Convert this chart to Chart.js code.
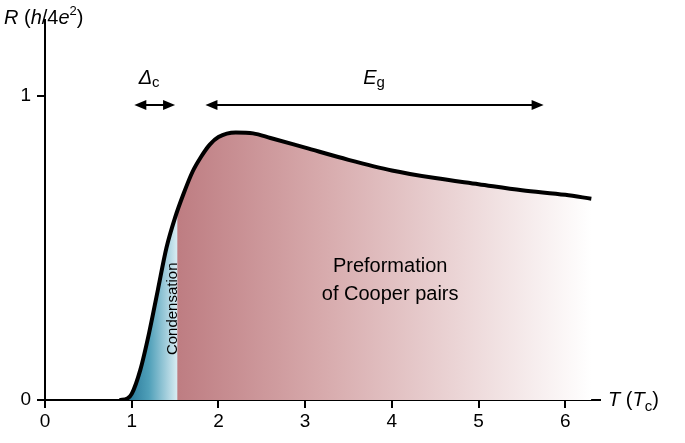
<!DOCTYPE html>
<html>
<head>
<meta charset="utf-8">
<script src="https://cdn.jsdelivr.net/npm/chart.js@4"></script>
<style>
  html, body { margin: 0; padding: 0; background: #fff; }
  #wrap { width: 685px; height: 443px; }
</style>
</head>
<body>
<div id="wrap"><canvas id="c"></canvas></div>
<script>
const temps = [0.86, 0.95, 1.0, 1.1, 1.2, 1.3, 1.4, 1.5, 1.6, 1.7, 1.8, 1.9, 2.0, 2.2, 2.4, 2.6, 3.0, 3.5, 4.0, 4.5, 5.0, 5.5, 6.0, 6.3];
const resist = [0, 0.005, 0.02, 0.1, 0.22, 0.36, 0.5, 0.6, 0.68, 0.75, 0.8, 0.84, 0.865, 0.88, 0.877, 0.862, 0.83, 0.79, 0.755, 0.73, 0.71, 0.69, 0.675, 0.662];
const xTicks = [0, 1, 2, 3, 4, 5, 6];
const yTicks = [0, 1];
const tCond = 1.53;

const FONT = "'Liberation Sans', Arial, sans-serif";

function fillGradient(ctx) {
    const chart = ctx.chart;
    const area = chart.chartArea;
    if (!area) return 'rgba(0,0,0,0)';
    const xs = chart.scales.x;
    const g = chart.ctx.createLinearGradient(area.left, 0, area.right, 0);
    const pos = v => Math.min(1, Math.max(0, (xs.getPixelForValue(v) - area.left) / (area.right - area.left)));
    g.addColorStop(pos(0.9), 'rgb(30,110,145)');
    g.addColorStop(pos(1.2), 'rgb(80,160,185)');
    g.addColorStop(pos(tCond) - 0.001, 'rgb(215,235,242)');
    g.addColorStop(pos(tCond), 'rgb(190,125,130)');
    g.addColorStop(pos(3.2), 'rgb(215,170,172)');
    g.addColorStop(pos(6.3), 'rgb(255,255,255)');
    return g;
}

// draws a run of [text, style, size, dy] pieces one after another
function run(c, x, y, parts) {
    parts.forEach(([t, style, size, dy]) => {
        c.font = style + ' ' + size + 'px ' + FONT;
        c.fillText(t, x, y + (dy || 0));
        x += c.measureText(t).width;
    });
}

const annotations = {
    id: 'annotations',
    afterDatasetsDraw(chart) {
        const c = chart.ctx;
        const xs = chart.scales.x, ys = chart.scales.y;
        const X = v => xs.getPixelForValue(v), Y = v => ys.getPixelForValue(v);
        c.save();
        c.strokeStyle = '#000';
        c.fillStyle = '#000';
        c.lineWidth = 2;
        function arrow(x1, x2, y) {
            c.beginPath(); c.moveTo(x1 + 4, y); c.lineTo(x2 - 4, y); c.stroke();
            [[x1, 1], [x2, -1]].forEach(([x, d]) => {
                c.beginPath(); c.moveTo(x, y); c.lineTo(x + d * 12, y - 5); c.lineTo(x + d * 12, y + 5); c.closePath(); c.fill();
            });
        }
        arrow(X(1.03), X(1.5), Y(0.97));
        arrow(X(1.85), X(5.75), Y(0.97));

        c.textBaseline = 'alphabetic';
        c.textAlign = 'left';
        run(c, X(1.08), Y(1.04), [['Δ', 'italic', 20], ['c', 'normal', 15, 3]]);
        run(c, X(3.67), Y(1.04), [['E', 'italic', 20], ['g', 'normal', 15, 3]]);

        c.font = '20px ' + FONT;
        c.textAlign = 'center';
        c.fillText('Preformation', X(3.98), Y(0.42));
        c.fillText('of Cooper pairs', X(3.98), Y(0.33));

        c.save();
        c.translate(X(1.47), Y(0.3));
        c.rotate(-Math.PI / 2);
        c.font = '15px ' + FONT;
        c.textBaseline = 'middle';
        c.fillText('Condensation', 0, 0);
        c.restore();

        c.textAlign = 'left';
        run(c, 4, 24, [['R', 'italic', 20], [' (', 'normal', 20], ['h', 'italic', 20], ['/4', 'normal', 20],
            ['e', 'italic', 20], ['2', 'normal', 13, -9], [')', 'normal', 20]]);
        run(c, 608, 406, [['T', 'italic', 20], [' (', 'normal', 20], ['T', 'italic', 20], ['c', 'normal', 15, 5], [')', 'normal', 20]]);
        c.restore();
    }
};

new Chart(document.getElementById('c'), {
    type: 'line',
    data: {
        datasets: [{
            data: temps.map((t, i) => ({ x: t, y: resist[i] })),
            borderColor: '#000',
            borderWidth: 4,
            pointRadius: 0,
            tension: 0.4,
            cubicInterpolationMode: 'monotone',
            fill: 'origin',
            backgroundColor: fillGradient
        }]
    },
    options: {
        responsive: true,
        maintainAspectRatio: false,
        animation: false,
        layout: { padding: { top: 20, right: 85, left: 0, bottom: 0 } },
        plugins: { legend: { display: false }, tooltip: { enabled: false } },
        scales: {
            x: {
                type: 'linear', min: 0, max: 6.4,
                afterFit: s => { s.height = 43; },
                afterBuildTicks: s => { s.ticks = xTicks.map(v => ({ value: v })); },
                border: { color: '#000', width: 2 },
                grid: { drawOnChartArea: false, color: '#000', lineWidth: 2, tickLength: 8 },
                ticks: { color: '#000', font: { family: FONT, size: 19 }, padding: 2 }
            },
            y: {
                min: 0, max: 1.25,
                afterFit: s => { s.width = 45; },
                afterBuildTicks: s => { s.ticks = yTicks.map(v => ({ value: v })); },
                border: { color: '#000', width: 2 },
                grid: { drawOnChartArea: false, color: '#000', lineWidth: 2, tickLength: 8 },
                ticks: { color: '#000', font: { family: FONT, size: 19 }, padding: 6 }
            }
        }
    },
    plugins: [annotations]
});
</script>
</body>
</html>
